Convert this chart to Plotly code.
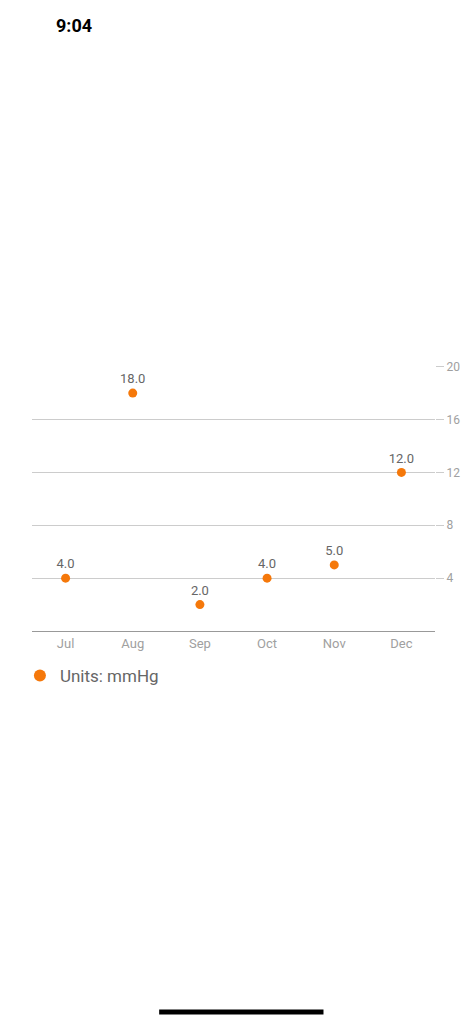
import plotly.graph_objects as go

months = ["Jul", "Aug", "Sep", "Oct", "Nov", "Dec"]
values = [4.0, 18.0, 2.0, 4.0, 5.0, 12.0]
y_ticks = [4, 8, 12, 16, 20]

fig = go.Figure()
fig.add_trace(go.Scatter(
    x=months, y=values, mode="markers+text",
    text=[f"{v:.1f}" for v in values], textposition="top center",
    textfont=dict(size=13, color="#666666"),
    marker=dict(color="#F5780A", size=9),
    name="Units: mmHg"))

fig.update_xaxes(range=[-0.5, 5.5], showgrid=False, showline=True,
                 linecolor="#999999", linewidth=1, ticks="",
                 tickfont=dict(size=13, color="#a0a0a0"))
fig.update_yaxes(range=[0, 20.05], side="right", tickvals=y_ticks,
                 showgrid=True, gridcolor="#cccccc", zeroline=False,
                 showline=False, ticks="outside", ticklen=8, tickcolor="#cccccc",
                 tickfont=dict(size=12, color="#a0a0a0"))

# page body has an 8px margin, so margins are shifted to compensate
fig.update_layout(
    width=474, height=1025,
    margin=dict(l=15, r=47, t=358, b=402),
    plot_bgcolor="white", paper_bgcolor="white",
    font=dict(family="Roboto"),
    showlegend=True,
    legend=dict(orientation="h", x=-0.03, y=-0.17, yanchor="middle",
                font=dict(size=17, color="#666666"), itemsizing="constant"),
    annotations=[dict(text="<b>9:04</b>", xref="paper", yref="paper",
                      x=(45 - 23) / 412, y=(631 - 25) / 265, yanchor="middle",
                      xanchor="left", showarrow=False,
                      font=dict(size=18, color="black"))],
    shapes=[dict(type="line", xref="paper", yref="paper",
                 x0=(153 - 23) / 412, x1=(321 - 23) / 412,
                 y0=(631 - 1012) / 265, y1=(631 - 1012) / 265,
                 line=dict(color="black", width=5))],
)

fig.write_html("out.html")
